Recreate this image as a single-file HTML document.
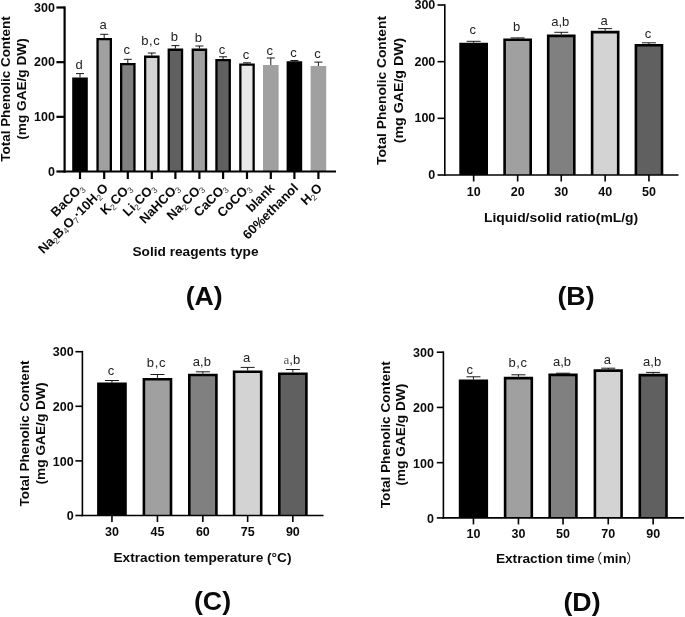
<!DOCTYPE html>
<html><head><meta charset="utf-8"><title>Figure</title>
<style>
html,body{margin:0;padding:0;background:#fff;}
svg{display:block;font-family:'Liberation Sans', Arial, sans-serif;}
</style></head><body>
<svg width="685" height="617" viewBox="0 0 685 617">
<rect width="685" height="617" fill="#fff"/>
<line x1="80.0" y1="77.6" x2="80.0" y2="73.6" stroke="#000" stroke-width="0.9"/>
<line x1="76.0" y1="73.6" x2="84.0" y2="73.6" stroke="#000" stroke-width="0.9"/>
<path d="M73.35,171.5 V78.75 H86.65 V171.5" fill="#000" stroke="#000" stroke-width="2.3" stroke-linejoin="miter"/>
<text x="79.0" y="69" font-size="13" font-weight="normal" text-anchor="middle" fill="#222">d</text>
<line x1="104.2" y1="38.0" x2="104.2" y2="34.3" stroke="#000" stroke-width="0.9"/>
<line x1="100.2" y1="34.3" x2="108.2" y2="34.3" stroke="#000" stroke-width="0.9"/>
<path d="M97.55,171.5 V39.15 H110.85 V171.5" fill="#a0a0a0" stroke="#000" stroke-width="2.3" stroke-linejoin="miter"/>
<text x="103.2" y="28.5" font-size="13" font-weight="normal" text-anchor="middle" fill="#222">a</text>
<line x1="127.8" y1="63.0" x2="127.8" y2="59.3" stroke="#000" stroke-width="0.9"/>
<line x1="123.8" y1="59.3" x2="131.8" y2="59.3" stroke="#000" stroke-width="0.9"/>
<path d="M121.15,171.5 V64.15 H134.45 V171.5" fill="#808080" stroke="#000" stroke-width="2.3" stroke-linejoin="miter"/>
<text x="126.8" y="54.2" font-size="13" font-weight="normal" text-anchor="middle" fill="#222">c</text>
<line x1="151.8" y1="55.6" x2="151.8" y2="53.0" stroke="#000" stroke-width="0.9"/>
<line x1="147.8" y1="53.0" x2="155.8" y2="53.0" stroke="#000" stroke-width="0.9"/>
<path d="M145.15,171.5 V56.75 H158.45 V171.5" fill="#d3d3d3" stroke="#000" stroke-width="2.3" stroke-linejoin="miter"/>
<text x="150.8" y="45" font-size="13" font-weight="normal" text-anchor="middle" fill="#222" letter-spacing="0.6">b,c</text>
<line x1="175.4" y1="48.6" x2="175.4" y2="45.6" stroke="#000" stroke-width="0.9"/>
<line x1="171.4" y1="45.6" x2="179.4" y2="45.6" stroke="#000" stroke-width="0.9"/>
<path d="M168.75,171.5 V49.75 H182.05 V171.5" fill="#606060" stroke="#000" stroke-width="2.3" stroke-linejoin="miter"/>
<text x="174.4" y="40.9" font-size="13" font-weight="normal" text-anchor="middle" fill="#222">b</text>
<line x1="199.4" y1="48.6" x2="199.4" y2="46.0" stroke="#000" stroke-width="0.9"/>
<line x1="195.4" y1="46.0" x2="203.4" y2="46.0" stroke="#000" stroke-width="0.9"/>
<path d="M192.75,171.5 V49.75 H206.05 V171.5" fill="#a0a0a0" stroke="#000" stroke-width="2.3" stroke-linejoin="miter"/>
<text x="198.4" y="41.6" font-size="13" font-weight="normal" text-anchor="middle" fill="#222">b</text>
<line x1="223.10000000000002" y1="59.0" x2="223.10000000000002" y2="56.8" stroke="#000" stroke-width="0.9"/>
<line x1="219.10000000000002" y1="56.8" x2="227.10000000000002" y2="56.8" stroke="#000" stroke-width="0.9"/>
<path d="M216.45,171.5 V60.15 H229.75 V171.5" fill="#606060" stroke="#000" stroke-width="2.3" stroke-linejoin="miter"/>
<text x="222.10000000000002" y="54.2" font-size="13" font-weight="normal" text-anchor="middle" fill="#222">c</text>
<line x1="247.0" y1="63.5" x2="247.0" y2="62.8" stroke="#000" stroke-width="0.9"/>
<line x1="243.0" y1="62.8" x2="251.0" y2="62.8" stroke="#000" stroke-width="0.9"/>
<path d="M240.35,171.5 V64.65 H253.65 V171.5" fill="#e8e8e8" stroke="#000" stroke-width="2.3" stroke-linejoin="miter"/>
<text x="246.0" y="59" font-size="13" font-weight="normal" text-anchor="middle" fill="#222">c</text>
<line x1="270.8" y1="65.0" x2="270.8" y2="58.0" stroke="#000" stroke-width="0.9"/>
<line x1="266.8" y1="58.0" x2="274.8" y2="58.0" stroke="#000" stroke-width="0.9"/>
<rect x="263.0" y="65.0" width="15.6" height="106.5" fill="#a0a0a0"/>
<text x="269.8" y="55" font-size="13" font-weight="normal" text-anchor="middle" fill="#222">c</text>
<line x1="294.40000000000003" y1="61.2" x2="294.40000000000003" y2="60.5" stroke="#000" stroke-width="0.9"/>
<line x1="290.40000000000003" y1="60.5" x2="298.40000000000003" y2="60.5" stroke="#000" stroke-width="0.9"/>
<path d="M287.75,171.5 V62.35 H301.05 V171.5" fill="#000" stroke="#000" stroke-width="2.3" stroke-linejoin="miter"/>
<text x="293.40000000000003" y="57" font-size="13" font-weight="normal" text-anchor="middle" fill="#222">c</text>
<line x1="318.40000000000003" y1="66.0" x2="318.40000000000003" y2="62.1" stroke="#000" stroke-width="0.9"/>
<line x1="314.40000000000003" y1="62.1" x2="322.40000000000003" y2="62.1" stroke="#000" stroke-width="0.9"/>
<rect x="310.6" y="66.0" width="15.6" height="105.5" fill="#a0a0a0"/>
<text x="317.40000000000003" y="58" font-size="13" font-weight="normal" text-anchor="middle" fill="#222">c</text>
<line x1="64.6" y1="6.4" x2="64.6" y2="172.6" stroke="#000" stroke-width="2.2"/>
<line x1="63.49999999999999" y1="171.5" x2="336" y2="171.5" stroke="#000" stroke-width="2.2"/>
<line x1="56.39999999999999" y1="171.5" x2="64.6" y2="171.5" stroke="#000" stroke-width="2.2"/>
<text x="54.89999999999999" y="175.6" font-size="12.5" font-weight="bold" text-anchor="end" fill="#0a0a0a">0</text>
<line x1="56.39999999999999" y1="116.83333333333334" x2="64.6" y2="116.83333333333334" stroke="#000" stroke-width="2.2"/>
<text x="54.89999999999999" y="120.93333333333334" font-size="12.5" font-weight="bold" text-anchor="end" fill="#0a0a0a">100</text>
<line x1="56.39999999999999" y1="62.16666666666667" x2="64.6" y2="62.16666666666667" stroke="#000" stroke-width="2.2"/>
<text x="54.89999999999999" y="66.26666666666667" font-size="12.5" font-weight="bold" text-anchor="end" fill="#0a0a0a">200</text>
<line x1="56.39999999999999" y1="7.5" x2="64.6" y2="7.5" stroke="#000" stroke-width="2.2"/>
<text x="54.89999999999999" y="11.6" font-size="12.5" font-weight="bold" text-anchor="end" fill="#0a0a0a">300</text>
<line x1="80.0" y1="171.5" x2="80.0" y2="179.0" stroke="#000" stroke-width="2.2"/>
<line x1="104.2" y1="171.5" x2="104.2" y2="179.0" stroke="#000" stroke-width="2.2"/>
<line x1="127.8" y1="171.5" x2="127.8" y2="179.0" stroke="#000" stroke-width="2.2"/>
<line x1="151.8" y1="171.5" x2="151.8" y2="179.0" stroke="#000" stroke-width="2.2"/>
<line x1="175.4" y1="171.5" x2="175.4" y2="179.0" stroke="#000" stroke-width="2.2"/>
<line x1="199.4" y1="171.5" x2="199.4" y2="179.0" stroke="#000" stroke-width="2.2"/>
<line x1="223.10000000000002" y1="171.5" x2="223.10000000000002" y2="179.0" stroke="#000" stroke-width="2.2"/>
<line x1="247.0" y1="171.5" x2="247.0" y2="179.0" stroke="#000" stroke-width="2.2"/>
<line x1="270.8" y1="171.5" x2="270.8" y2="179.0" stroke="#000" stroke-width="2.2"/>
<line x1="294.40000000000003" y1="171.5" x2="294.40000000000003" y2="179.0" stroke="#000" stroke-width="2.2"/>
<line x1="318.40000000000003" y1="171.5" x2="318.40000000000003" y2="179.0" stroke="#000" stroke-width="2.2"/>
<text transform="translate(10,89) rotate(-90)" font-size="13" font-weight="bold" text-anchor="middle" fill="#0a0a0a" textLength="145.5" lengthAdjust="spacingAndGlyphs">Total Phenolic Content</text>
<text transform="translate(26,89) rotate(-90)" font-size="13" font-weight="bold" text-anchor="middle" fill="#0a0a0a" textLength="101.5" lengthAdjust="spacingAndGlyphs">(mg GAE/g DW)</text>
<text transform="translate(84.6,188.8) rotate(-45)" font-size="13" font-weight="bold" text-anchor="end" fill="#0a0a0a">BaCO<tspan font-size="8.6" font-weight="normal" dy="2.5" dx="-0.3" fill="#3a3a3a">3</tspan><tspan dy="-2.5" font-size="0.1"> </tspan></text>
<text transform="translate(108.8,188.8) rotate(-45)" font-size="13" font-weight="bold" text-anchor="end" fill="#0a0a0a">Na<tspan font-size="8.6" font-weight="normal" dy="2.5" dx="-0.3" fill="#3a3a3a">2</tspan><tspan dy="-2.5" font-size="0.1"> </tspan>B<tspan font-size="8.6" font-weight="normal" dy="2.5" dx="-0.3" fill="#3a3a3a">4</tspan><tspan dy="-2.5" font-size="0.1"> </tspan>O<tspan font-size="8.6" font-weight="normal" dy="2.5" dx="-0.3" fill="#3a3a3a">7</tspan><tspan dy="-2.5" font-size="0.1"> </tspan>·10H<tspan font-size="8.6" font-weight="normal" dy="2.5" dx="-0.3" fill="#3a3a3a">2</tspan><tspan dy="-2.5" font-size="0.1"> </tspan>O</text>
<text transform="translate(132.4,188.8) rotate(-45)" font-size="13" font-weight="bold" text-anchor="end" fill="#0a0a0a">K<tspan font-size="8.6" font-weight="normal" dy="2.5" dx="-0.3" fill="#3a3a3a">2</tspan><tspan dy="-2.5" font-size="0.1"> </tspan>CO<tspan font-size="8.6" font-weight="normal" dy="2.5" dx="-0.3" fill="#3a3a3a">3</tspan><tspan dy="-2.5" font-size="0.1"> </tspan></text>
<text transform="translate(156.4,188.8) rotate(-45)" font-size="13" font-weight="bold" text-anchor="end" fill="#0a0a0a">Li<tspan font-size="8.6" font-weight="normal" dy="2.5" dx="-0.3" fill="#3a3a3a">2</tspan><tspan dy="-2.5" font-size="0.1"> </tspan>CO<tspan font-size="8.6" font-weight="normal" dy="2.5" dx="-0.3" fill="#3a3a3a">3</tspan><tspan dy="-2.5" font-size="0.1"> </tspan></text>
<text transform="translate(180.0,188.8) rotate(-45)" font-size="13" font-weight="bold" text-anchor="end" fill="#0a0a0a">NaHCO<tspan font-size="8.6" font-weight="normal" dy="2.5" dx="-0.3" fill="#3a3a3a">3</tspan><tspan dy="-2.5" font-size="0.1"> </tspan></text>
<text transform="translate(204.0,188.8) rotate(-45)" font-size="13" font-weight="bold" text-anchor="end" fill="#0a0a0a">Na<tspan font-size="8.6" font-weight="normal" dy="2.5" dx="-0.3" fill="#3a3a3a">2</tspan><tspan dy="-2.5" font-size="0.1"> </tspan>CO<tspan font-size="8.6" font-weight="normal" dy="2.5" dx="-0.3" fill="#3a3a3a">3</tspan><tspan dy="-2.5" font-size="0.1"> </tspan></text>
<text transform="translate(227.70000000000002,188.8) rotate(-45)" font-size="13" font-weight="bold" text-anchor="end" fill="#0a0a0a">CaCO<tspan font-size="8.6" font-weight="normal" dy="2.5" dx="-0.3" fill="#3a3a3a">3</tspan><tspan dy="-2.5" font-size="0.1"> </tspan></text>
<text transform="translate(251.6,188.8) rotate(-45)" font-size="13" font-weight="bold" text-anchor="end" fill="#0a0a0a">CoCO<tspan font-size="8.6" font-weight="normal" dy="2.5" dx="-0.3" fill="#3a3a3a">3</tspan><tspan dy="-2.5" font-size="0.1"> </tspan></text>
<text transform="translate(275.40000000000003,188.8) rotate(-45)" font-size="13" font-weight="bold" text-anchor="end" fill="#0a0a0a">blank</text>
<text transform="translate(299.00000000000006,188.8) rotate(-45)" font-size="13" font-weight="bold" text-anchor="end" fill="#0a0a0a">60%ethanol</text>
<text transform="translate(323.00000000000006,188.8) rotate(-45)" font-size="13" font-weight="bold" text-anchor="end" fill="#0a0a0a">H<tspan font-size="8.6" font-weight="normal" dy="2.5" dx="-0.3" fill="#3a3a3a">2</tspan><tspan dy="-2.5" font-size="0.1"> </tspan>O</text>
<text x="195.5" y="256.2" font-size="13" font-weight="bold" text-anchor="middle" fill="#0a0a0a" textLength="126" lengthAdjust="spacingAndGlyphs">Solid reagents type</text>
<text x="204.2" y="305.1" font-size="26.7" font-weight="bold" text-anchor="middle" fill="#0a0a0a">(A)</text>
<line x1="473.65000000000003" y1="42.8" x2="473.65000000000003" y2="41.3" stroke="#000" stroke-width="0.9"/>
<line x1="466.65000000000003" y1="41.3" x2="480.65000000000003" y2="41.3" stroke="#000" stroke-width="0.9"/>
<path d="M460.60,175 V44.10 H486.70 V175" fill="#000" stroke="#000" stroke-width="2.6" stroke-linejoin="miter"/>
<text x="472.65000000000003" y="33.6" font-size="13" font-weight="normal" text-anchor="middle" fill="#222">c</text>
<line x1="517.65" y1="38.5" x2="517.65" y2="37.9" stroke="#000" stroke-width="0.9"/>
<line x1="510.65" y1="37.9" x2="524.65" y2="37.9" stroke="#000" stroke-width="0.9"/>
<path d="M504.60,175 V39.80 H530.70 V175" fill="#a0a0a0" stroke="#000" stroke-width="2.6" stroke-linejoin="miter"/>
<text x="516.65" y="31.3" font-size="13" font-weight="normal" text-anchor="middle" fill="#222">b</text>
<line x1="561.25" y1="34.6" x2="561.25" y2="32.3" stroke="#000" stroke-width="0.9"/>
<line x1="554.25" y1="32.3" x2="568.25" y2="32.3" stroke="#000" stroke-width="0.9"/>
<path d="M548.20,175 V35.90 H574.30 V175" fill="#808080" stroke="#000" stroke-width="2.6" stroke-linejoin="miter"/>
<text x="560.25" y="26.4" font-size="13" font-weight="normal" text-anchor="middle" fill="#222">a,b</text>
<line x1="605.15" y1="30.8" x2="605.15" y2="28.6" stroke="#000" stroke-width="0.9"/>
<line x1="598.15" y1="28.6" x2="612.15" y2="28.6" stroke="#000" stroke-width="0.9"/>
<path d="M592.10,175 V32.10 H618.20 V175" fill="#d3d3d3" stroke="#000" stroke-width="2.6" stroke-linejoin="miter"/>
<text x="604.15" y="24.8" font-size="13" font-weight="normal" text-anchor="middle" fill="#222">a</text>
<line x1="648.95" y1="43.9" x2="648.95" y2="42.8" stroke="#000" stroke-width="0.9"/>
<line x1="641.95" y1="42.8" x2="655.95" y2="42.8" stroke="#000" stroke-width="0.9"/>
<path d="M635.90,175 V45.20 H662.00 V175" fill="#606060" stroke="#000" stroke-width="2.6" stroke-linejoin="miter"/>
<text x="647.95" y="38.4" font-size="13" font-weight="normal" text-anchor="middle" fill="#222">c</text>
<line x1="444.8" y1="4.2" x2="444.8" y2="175.8" stroke="#000" stroke-width="1.6"/>
<line x1="444.0" y1="175" x2="678.5" y2="175" stroke="#000" stroke-width="1.6"/>
<line x1="437.5" y1="175.0" x2="444.8" y2="175.0" stroke="#000" stroke-width="1.6"/>
<text x="435.3" y="179.1" font-size="12.5" font-weight="bold" text-anchor="end" fill="#0a0a0a">0</text>
<line x1="437.5" y1="118.33333333333334" x2="444.8" y2="118.33333333333334" stroke="#000" stroke-width="1.6"/>
<text x="435.3" y="122.43333333333334" font-size="12.5" font-weight="bold" text-anchor="end" fill="#0a0a0a">100</text>
<line x1="437.5" y1="61.66666666666667" x2="444.8" y2="61.66666666666667" stroke="#000" stroke-width="1.6"/>
<text x="435.3" y="65.76666666666667" font-size="12.5" font-weight="bold" text-anchor="end" fill="#0a0a0a">200</text>
<line x1="437.5" y1="5.0" x2="444.8" y2="5.0" stroke="#000" stroke-width="1.6"/>
<text x="435.3" y="9.1" font-size="12.5" font-weight="bold" text-anchor="end" fill="#0a0a0a">300</text>
<line x1="473.65000000000003" y1="175" x2="473.65000000000003" y2="181.5" stroke="#000" stroke-width="1.6"/>
<line x1="517.65" y1="175" x2="517.65" y2="181.5" stroke="#000" stroke-width="1.6"/>
<line x1="561.25" y1="175" x2="561.25" y2="181.5" stroke="#000" stroke-width="1.6"/>
<line x1="605.15" y1="175" x2="605.15" y2="181.5" stroke="#000" stroke-width="1.6"/>
<line x1="648.95" y1="175" x2="648.95" y2="181.5" stroke="#000" stroke-width="1.6"/>
<text transform="translate(386,90.5) rotate(-90)" font-size="13" font-weight="bold" text-anchor="middle" fill="#0a0a0a" textLength="149" lengthAdjust="spacingAndGlyphs">Total Phenolic Content</text>
<text transform="translate(402.8,90.5) rotate(-90)" font-size="13" font-weight="bold" text-anchor="middle" fill="#0a0a0a" textLength="105.5" lengthAdjust="spacingAndGlyphs">(mg GAE/g DW)</text>
<text x="473.65000000000003" y="195.6" font-size="12.5" font-weight="bold" text-anchor="middle" fill="#0a0a0a">10</text>
<text x="517.65" y="195.6" font-size="12.5" font-weight="bold" text-anchor="middle" fill="#0a0a0a">20</text>
<text x="561.25" y="195.6" font-size="12.5" font-weight="bold" text-anchor="middle" fill="#0a0a0a">30</text>
<text x="605.15" y="195.6" font-size="12.5" font-weight="bold" text-anchor="middle" fill="#0a0a0a">40</text>
<text x="648.95" y="195.6" font-size="12.5" font-weight="bold" text-anchor="middle" fill="#0a0a0a">50</text>
<text x="561.1" y="222" font-size="13" font-weight="bold" text-anchor="middle" fill="#0a0a0a" textLength="154.2" lengthAdjust="spacingAndGlyphs">Liquid/solid ratio(mL/g)</text>
<text x="576" y="305.2" font-size="26.7" font-weight="bold" text-anchor="middle" fill="#0a0a0a">(B)</text>
<line x1="111.94999999999999" y1="382.6" x2="111.94999999999999" y2="380.5" stroke="#000" stroke-width="0.9"/>
<line x1="104.94999999999999" y1="380.5" x2="118.94999999999999" y2="380.5" stroke="#000" stroke-width="0.9"/>
<path d="M98.40,515.5 V383.90 H125.50 V515.5" fill="#000" stroke="#000" stroke-width="2.6" stroke-linejoin="miter"/>
<text x="110.94999999999999" y="375" font-size="13" font-weight="normal" text-anchor="middle" fill="#222">c</text>
<line x1="157.45" y1="377.9" x2="157.45" y2="374.5" stroke="#000" stroke-width="0.9"/>
<line x1="150.45" y1="374.5" x2="164.45" y2="374.5" stroke="#000" stroke-width="0.9"/>
<path d="M143.90,515.5 V379.20 H171.00 V515.5" fill="#a0a0a0" stroke="#000" stroke-width="2.6" stroke-linejoin="miter"/>
<text x="156.45" y="367" font-size="13" font-weight="normal" text-anchor="middle" fill="#222" letter-spacing="0.6">b,c</text>
<line x1="202.85" y1="373.7" x2="202.85" y2="371.8" stroke="#000" stroke-width="0.9"/>
<line x1="195.85" y1="371.8" x2="209.85" y2="371.8" stroke="#000" stroke-width="0.9"/>
<path d="M189.30,515.5 V375.00 H216.40 V515.5" fill="#808080" stroke="#000" stroke-width="2.6" stroke-linejoin="miter"/>
<text x="201.85" y="366" font-size="13" font-weight="normal" text-anchor="middle" fill="#222">a,b</text>
<line x1="247.65" y1="370.4" x2="247.65" y2="367.4" stroke="#000" stroke-width="0.9"/>
<line x1="240.65" y1="367.4" x2="254.65" y2="367.4" stroke="#000" stroke-width="0.9"/>
<path d="M234.10,515.5 V371.70 H261.20 V515.5" fill="#d3d3d3" stroke="#000" stroke-width="2.6" stroke-linejoin="miter"/>
<text x="246.65" y="362" font-size="13" font-weight="normal" text-anchor="middle" fill="#222">a</text>
<line x1="292.85" y1="372.5" x2="292.85" y2="369.5" stroke="#000" stroke-width="0.9"/>
<line x1="285.85" y1="369.5" x2="299.85" y2="369.5" stroke="#000" stroke-width="0.9"/>
<path d="M279.30,515.5 V373.80 H306.40 V515.5" fill="#606060" stroke="#000" stroke-width="2.6" stroke-linejoin="miter"/>
<text x="291.85" y="364" font-size="13" font-weight="normal" text-anchor="middle" fill="#222"><tspan font-family="'Liberation Serif',serif" fill="#555">a</tspan>,b</text>
<line x1="82.4" y1="350.9" x2="82.4" y2="516.3" stroke="#000" stroke-width="1.6"/>
<line x1="81.60000000000001" y1="515.5" x2="323.5" y2="515.5" stroke="#000" stroke-width="1.6"/>
<line x1="75.4" y1="515.5" x2="82.4" y2="515.5" stroke="#000" stroke-width="1.6"/>
<text x="73.7" y="520.1" font-size="12.5" font-weight="bold" text-anchor="end" fill="#0a0a0a">0</text>
<line x1="75.4" y1="460.9" x2="82.4" y2="460.9" stroke="#000" stroke-width="1.6"/>
<text x="73.7" y="465.5" font-size="12.5" font-weight="bold" text-anchor="end" fill="#0a0a0a">100</text>
<line x1="75.4" y1="406.3" x2="82.4" y2="406.3" stroke="#000" stroke-width="1.6"/>
<text x="73.7" y="410.90000000000003" font-size="12.5" font-weight="bold" text-anchor="end" fill="#0a0a0a">200</text>
<line x1="75.4" y1="351.7" x2="82.4" y2="351.7" stroke="#000" stroke-width="1.6"/>
<text x="73.7" y="356.3" font-size="12.5" font-weight="bold" text-anchor="end" fill="#0a0a0a">300</text>
<line x1="111.94999999999999" y1="515.5" x2="111.94999999999999" y2="522.0" stroke="#000" stroke-width="1.6"/>
<line x1="157.45" y1="515.5" x2="157.45" y2="522.0" stroke="#000" stroke-width="1.6"/>
<line x1="202.85" y1="515.5" x2="202.85" y2="522.0" stroke="#000" stroke-width="1.6"/>
<line x1="247.65" y1="515.5" x2="247.65" y2="522.0" stroke="#000" stroke-width="1.6"/>
<line x1="292.85" y1="515.5" x2="292.85" y2="522.0" stroke="#000" stroke-width="1.6"/>
<text transform="translate(29,433.5) rotate(-90)" font-size="13" font-weight="bold" text-anchor="middle" fill="#0a0a0a" textLength="146" lengthAdjust="spacingAndGlyphs">Total Phenolic Content</text>
<text transform="translate(45,433.5) rotate(-90)" font-size="13" font-weight="bold" text-anchor="middle" fill="#0a0a0a" textLength="102" lengthAdjust="spacingAndGlyphs">(mg GAE/g DW)</text>
<text x="111.94999999999999" y="535.6" font-size="12.5" font-weight="bold" text-anchor="middle" fill="#0a0a0a">30</text>
<text x="157.45" y="535.6" font-size="12.5" font-weight="bold" text-anchor="middle" fill="#0a0a0a">45</text>
<text x="202.85" y="535.6" font-size="12.5" font-weight="bold" text-anchor="middle" fill="#0a0a0a">60</text>
<text x="247.65" y="535.6" font-size="12.5" font-weight="bold" text-anchor="middle" fill="#0a0a0a">75</text>
<text x="292.85" y="535.6" font-size="12.5" font-weight="bold" text-anchor="middle" fill="#0a0a0a">90</text>
<text x="202.5" y="561.7" font-size="13" font-weight="bold" text-anchor="middle" fill="#0a0a0a" textLength="178" lengthAdjust="spacingAndGlyphs">Extraction temperature (°C)</text>
<text x="212.5" y="610.1" font-size="26.7" font-weight="bold" text-anchor="middle" fill="#0a0a0a">(C)</text>
<line x1="473.45" y1="379.5" x2="473.45" y2="376.8" stroke="#000" stroke-width="0.9"/>
<line x1="466.45" y1="376.8" x2="480.45" y2="376.8" stroke="#000" stroke-width="0.9"/>
<path d="M460.10,517.9 V380.80 H486.80 V517.9" fill="#000" stroke="#000" stroke-width="2.6" stroke-linejoin="miter"/>
<text x="469.75" y="373.6" font-size="13" font-weight="normal" text-anchor="middle" fill="#222">c</text>
<line x1="518.45" y1="376.8" x2="518.45" y2="374.8" stroke="#000" stroke-width="0.9"/>
<line x1="511.45000000000005" y1="374.8" x2="525.45" y2="374.8" stroke="#000" stroke-width="0.9"/>
<path d="M505.10,517.9 V378.10 H531.80 V517.9" fill="#a0a0a0" stroke="#000" stroke-width="2.6" stroke-linejoin="miter"/>
<text x="518.0500000000001" y="367.4" font-size="13" font-weight="normal" text-anchor="middle" fill="#222" letter-spacing="0.6">b,c</text>
<line x1="563.05" y1="373.6" x2="563.05" y2="373.2" stroke="#000" stroke-width="0.9"/>
<line x1="556.05" y1="373.2" x2="570.05" y2="373.2" stroke="#000" stroke-width="0.9"/>
<path d="M549.70,517.9 V374.90 H576.40 V517.9" fill="#808080" stroke="#000" stroke-width="2.6" stroke-linejoin="miter"/>
<text x="562.05" y="366.4" font-size="13" font-weight="normal" text-anchor="middle" fill="#222">a,b</text>
<line x1="608.25" y1="369.3" x2="608.25" y2="368.2" stroke="#000" stroke-width="0.9"/>
<line x1="601.25" y1="368.2" x2="615.25" y2="368.2" stroke="#000" stroke-width="0.9"/>
<path d="M594.90,517.9 V370.60 H621.60 V517.9" fill="#d3d3d3" stroke="#000" stroke-width="2.6" stroke-linejoin="miter"/>
<text x="607.25" y="364.4" font-size="13" font-weight="normal" text-anchor="middle" fill="#222">a</text>
<line x1="653.15" y1="373.8" x2="653.15" y2="372.4" stroke="#000" stroke-width="0.9"/>
<line x1="646.15" y1="372.4" x2="660.15" y2="372.4" stroke="#000" stroke-width="0.9"/>
<path d="M639.80,517.9 V375.10 H666.50 V517.9" fill="#606060" stroke="#000" stroke-width="2.6" stroke-linejoin="miter"/>
<text x="652.15" y="366.4" font-size="13" font-weight="normal" text-anchor="middle" fill="#222">a,b</text>
<line x1="443.4" y1="351.4" x2="443.4" y2="518.6999999999999" stroke="#000" stroke-width="1.6"/>
<line x1="442.59999999999997" y1="517.9" x2="684" y2="517.9" stroke="#000" stroke-width="1.6"/>
<line x1="436.79999999999995" y1="517.9" x2="443.4" y2="517.9" stroke="#000" stroke-width="1.6"/>
<text x="433.9" y="522.8" font-size="12.5" font-weight="bold" text-anchor="end" fill="#0a0a0a">0</text>
<line x1="436.79999999999995" y1="462.66666666666663" x2="443.4" y2="462.66666666666663" stroke="#000" stroke-width="1.6"/>
<text x="433.9" y="467.56666666666666" font-size="12.5" font-weight="bold" text-anchor="end" fill="#0a0a0a">100</text>
<line x1="436.79999999999995" y1="407.43333333333334" x2="443.4" y2="407.43333333333334" stroke="#000" stroke-width="1.6"/>
<text x="433.9" y="412.33333333333337" font-size="12.5" font-weight="bold" text-anchor="end" fill="#0a0a0a">200</text>
<line x1="436.79999999999995" y1="352.2" x2="443.4" y2="352.2" stroke="#000" stroke-width="1.6"/>
<text x="433.9" y="357.1" font-size="12.5" font-weight="bold" text-anchor="end" fill="#0a0a0a">300</text>
<line x1="473.45" y1="517.9" x2="473.45" y2="524.4" stroke="#000" stroke-width="1.6"/>
<line x1="518.45" y1="517.9" x2="518.45" y2="524.4" stroke="#000" stroke-width="1.6"/>
<line x1="563.05" y1="517.9" x2="563.05" y2="524.4" stroke="#000" stroke-width="1.6"/>
<line x1="608.25" y1="517.9" x2="608.25" y2="524.4" stroke="#000" stroke-width="1.6"/>
<line x1="653.15" y1="517.9" x2="653.15" y2="524.4" stroke="#000" stroke-width="1.6"/>
<text transform="translate(389.8,434.7) rotate(-90)" font-size="13" font-weight="bold" text-anchor="middle" fill="#0a0a0a" textLength="147" lengthAdjust="spacingAndGlyphs">Total Phenolic Content</text>
<text transform="translate(405.4,434.7) rotate(-90)" font-size="13" font-weight="bold" text-anchor="middle" fill="#0a0a0a" textLength="102" lengthAdjust="spacingAndGlyphs">(mg GAE/g DW)</text>
<text x="473.45" y="538.1" font-size="12.5" font-weight="bold" text-anchor="middle" fill="#0a0a0a">10</text>
<text x="518.45" y="538.1" font-size="12.5" font-weight="bold" text-anchor="middle" fill="#0a0a0a">30</text>
<text x="563.05" y="538.1" font-size="12.5" font-weight="bold" text-anchor="middle" fill="#0a0a0a">50</text>
<text x="608.25" y="538.1" font-size="12.5" font-weight="bold" text-anchor="middle" fill="#0a0a0a">70</text>
<text x="653.15" y="538.1" font-size="12.5" font-weight="bold" text-anchor="middle" fill="#0a0a0a">90</text>
<text x="495.9" y="563" font-size="13" font-weight="bold" text-anchor="start" fill="#0a0a0a" textLength="98.8" lengthAdjust="spacingAndGlyphs">Extraction time</text>
<text x="602.2" y="563" font-size="13" font-weight="normal" text-anchor="end" fill="#0a0a0a" font-family="'Liberation Sans','Noto Sans CJK SC',sans-serif">（</text>
<text x="603.0" y="563" font-size="13" font-weight="bold" text-anchor="start" fill="#0a0a0a" textLength="23.6" lengthAdjust="spacingAndGlyphs">min</text>
<text x="626.2" y="563" font-size="13" font-weight="normal" text-anchor="start" fill="#0a0a0a" font-family="'Liberation Sans','Noto Sans CJK SC',sans-serif">）</text>
<text x="582" y="611.3" font-size="26.7" font-weight="bold" text-anchor="middle" fill="#0a0a0a">(D)</text>
</svg>
</body></html>
